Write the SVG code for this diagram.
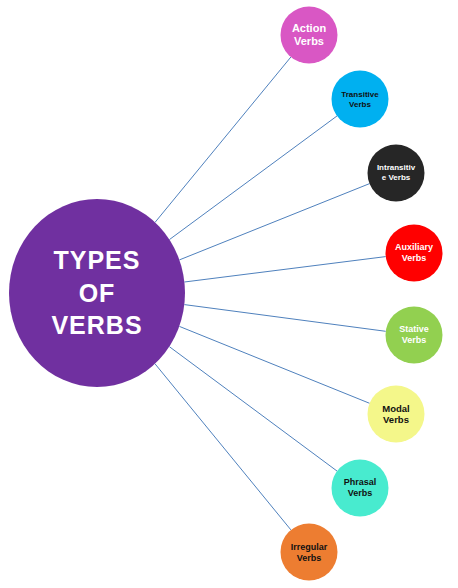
<svg xmlns="http://www.w3.org/2000/svg" width="458" height="588" viewBox="0 0 458 588">
<style>
.bg{fill:#FFFFFF}
.conn line{stroke:#4F81BD;stroke-width:1}
.t{font-family:"Liberation Sans",Arial,sans-serif;font-weight:bold;text-anchor:middle}
.w{fill:#FFFFFF}
.k{fill:#111111}
.main{font-family:"Liberation Sans",Arial,sans-serif;font-weight:900;font-size:25px;letter-spacing:1px;fill:#FFFFFF;text-anchor:middle}
</style>
<rect class="bg" x="0" y="0" width="458" height="588"/>
<g id="connectors" class="conn">
<line x1="155" y1="222.4" x2="290.9" y2="57"/>
<line x1="169.4" y1="239.6" x2="337.1" y2="115.9"/>
<line x1="179.4" y1="259.9" x2="369.6" y2="183.6"/>
<line x1="184.4" y1="282" x2="385.7" y2="256.6"/>
<line x1="184.4" y1="304.6" x2="385.7" y2="331.3"/>
<line x1="179.4" y1="326.4" x2="369.6" y2="403.3"/>
<line x1="169.4" y1="346.7" x2="337.1" y2="471.1"/>
<line x1="155" y1="363.8" x2="290.9" y2="529.9"/>
</g>
<g id="types-of-verbs">
<ellipse cx="97" cy="293" rx="88" ry="94" fill="#7030A0"/>
<text class="main" x="97" y="269">TYPES</text>
<text class="main" x="97" y="302">OF</text>
<text class="main" x="97" y="334">VERBS</text>
</g>
<g id="action-verbs">
<circle cx="309" cy="35" r="28.5" fill="#D957C4"/>
<text class="t w" x="309" y="32" font-size="11">Action</text>
<text class="t w" x="309" y="45" font-size="11">Verbs</text>
</g>
<g id="transitive-verbs">
<circle cx="360" cy="99" r="28.5" fill="#00B0F0"/>
<text class="t k" x="360" y="97" font-size="8">Transitive</text>
<text class="t k" x="360" y="107" font-size="8">Verbs</text>
</g>
<g id="intransitive-verbs">
<circle cx="396" cy="173" r="28.5" fill="#262626"/>
<text class="t w" x="396" y="170" font-size="8">Intransitiv</text>
<text class="t w" x="396" y="180" font-size="8">e Verbs</text>
</g>
<g id="auxiliary-verbs">
<circle cx="414" cy="253" r="28.5" fill="#FF0000"/>
<text class="t w" x="414" y="249.5" font-size="9">Auxiliary</text>
<text class="t w" x="414" y="260.5" font-size="9">Verbs</text>
</g>
<g id="stative-verbs">
<circle cx="414" cy="335" r="28.5" fill="#92D050"/>
<text class="t w" x="414" y="331.5" font-size="9">Stative</text>
<text class="t w" x="414" y="342.5" font-size="9">Verbs</text>
</g>
<g id="modal-verbs">
<circle cx="396" cy="414" r="28.5" fill="#F4F78A"/>
<text class="t k" x="396" y="411.5" font-size="9.5">Modal</text>
<text class="t k" x="396" y="422.5" font-size="9.5">Verbs</text>
</g>
<g id="phrasal-verbs">
<circle cx="360" cy="488" r="28.5" fill="#48EBCF"/>
<text class="t k" x="360" y="485" font-size="9">Phrasal</text>
<text class="t k" x="360" y="496" font-size="9">Verbs</text>
</g>
<g id="irregular-verbs">
<circle cx="309" cy="552" r="28.5" fill="#ED7D31"/>
<text class="t k" x="309" y="550" font-size="9">Irregular</text>
<text class="t k" x="309" y="561" font-size="9">Verbs</text>
</g>
</svg>
